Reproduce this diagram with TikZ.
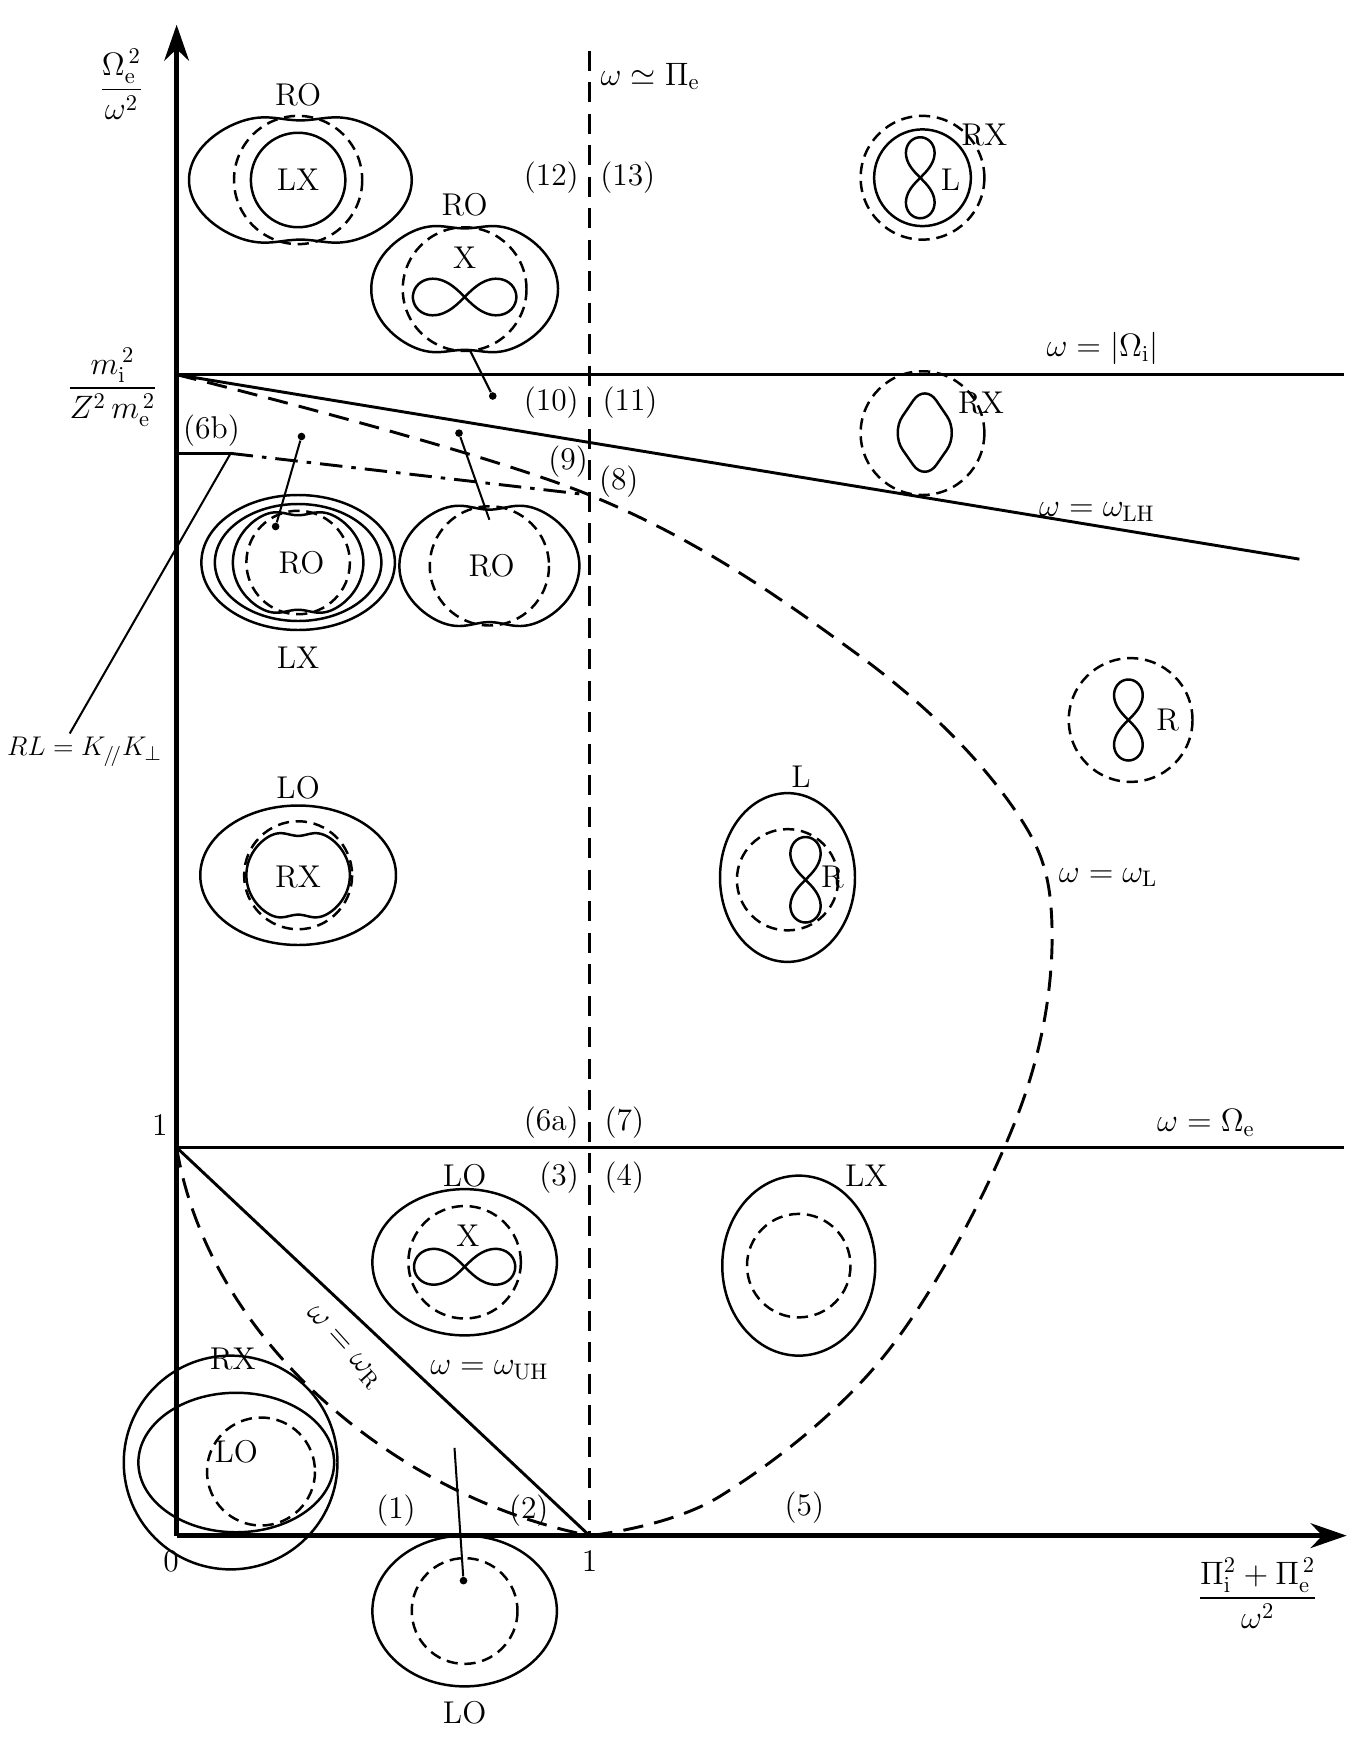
\documentclass[tikz,border=0pt]{standalone}
\usepackage{amsmath}
\usetikzlibrary{arrows.meta}
\tikzset{
  axis/.style={line width=2pt,-{Stealth[length=16pt,width=11pt]}},
  bound/.style={line width=1.3pt},
  cutoff/.style={line width=1.3pt,dash pattern=on 9pt off 5pt},
  wsurf/.style={line width=1.1pt},
  dsurf/.style={line width=1.1pt,dash pattern=on 5pt off 3pt},
  lead/.style={line width=0.9pt},
  dotpt/.style={circle,fill,inner sep=1.2pt},
  lbl/.style={inner sep=1pt}
}
% peanut shaped surface: half widths rx, ry and a dip w at top and bottom
\newcommand{\peanut}[5]{\draw[wsurf,shift={(#1,#2)}] plot[domain=0:360,samples=120,smooth cycle] ({#3*cos(\x)},{sin(\x)*(#4-#5*exp(-10*cos(\x)^2))});}
% horizontal and vertical figure eight
\newcommand{\eightH}[3]{\draw[wsurf,shift={(#1,#2)}] plot[domain=0:360,samples=100,smooth cycle] ({#3*cos(\x)/(1+sin(\x)^2)},{#3*sin(\x)*cos(\x)/(1+sin(\x)^2)});}
\newcommand{\eightV}[3]{\draw[wsurf,shift={(#1,#2)}] plot[domain=0:360,samples=100,smooth cycle] ({#3*sin(\x)*cos(\x)/(1+sin(\x)^2)},{#3*cos(\x)/(1+sin(\x)^2)});}
\begin{document}
\begin{tikzpicture}[x=0.5pt,y=-0.5pt,font=\fontsize{14}{16}\selectfont]
\useasboundingbox (0,0) rectangle (1210,1568);

%% AXES
\coordinate (O) at (157,1365);
\coordinate (ytop) at (157,22);
\coordinate (xend) at (1197,1365);
\draw[axis] (O) -- (ytop);
\draw[axis] (O) -- (xend);
\node[lbl] (ylab) at (108,75) {$\dfrac{\Omega_{\mathrm e}^{\,2}}{\omega^2}$};
\node[lbl] (xlab) at (1118,1416) {$\dfrac{\Pi_{\mathrm i}^2+\Pi_{\mathrm e}^{\,2}}{\omega^2}$};
\node[lbl] (mlab) at (100,344) {$\dfrac{m_{\mathrm i}^{\,2}}{Z^2\,m_{\mathrm e}^{\,2}}$};
\node[lbl] (zero) at (152,1388) {0};
\node[lbl] (oney) at (142,1000) {1};
\node[lbl] (onex) at (524,1388) {1};

%% BOUNDARIES
\coordinate (Mi) at (157,333);
\coordinate (E1) at (157,1020);
\coordinate (X1) at (524,1365);
\draw[cutoff] (524,45) -- (X1);
\draw[bound] (Mi) -- (1195,333);
\draw[bound] (E1) -- (1195,1020);
\draw[bound] (Mi) -- (1155,497);
\draw[bound] (E1) -- (X1);
\draw[cutoff] plot[smooth,tension=0.6] coordinates {(157,333) (524,440) (760,580) (895,710) (935,820) (905,990) (790,1200) (640,1330) (524,1365)};
\draw[cutoff] (E1) .. controls (185,1190) and (350,1330) .. (X1);
\coordinate (Sb) at (205,403);
\draw[bound] (157,403) -- (Sb);
\draw[line width=1.3pt,dash pattern=on 10pt off 4pt on 2pt off 4pt] (Sb) -- (524,440);
\coordinate (RLend) at (62,652);
\draw[lead] (Sb) -- (RLend);
\node[lbl,anchor=west,font=\fontsize{13}{15}\selectfont] (RL) at (4,668) {$RL=K_{/\!/}K_\perp$};

%% LINE LABELS
\node[lbl] (pe) at (578,68) {$\omega\simeq\Pi_{\mathrm e}$};
\node[lbl] (wi) at (980,310) {$\omega=|\Omega_{\mathrm i}|$};
\node[lbl] (wlh) at (975,455) {$\omega=\omega_{\mathrm{LH}}$};
\node[lbl] (wl) at (985,780) {$\omega=\omega_{\mathrm L}$};
\node[lbl] (we) at (1072,998) {$\omega=\Omega_{\mathrm e}$};
\node[lbl] (wuh) at (435,1218) {$\omega=\omega_{\mathrm{UH}}$};
\node[lbl,rotate=-48] (wr) at (305,1198) {$\omega=\omega_{\mathrm R}$};

%% REGION NUMBERS
\node (r12) at (490,158) {(12)};
\node (r13) at (558,158) {(13)};
\node (r10) at (490,358) {(10)};
\node (r11) at (560,358) {(11)};
\node (r9) at (505,410) {(9)};
\node (r8) at (550,428) {(8)};
\node (r6b) at (188,383) {(6b)};
\node (r6a) at (490,998) {(6a)};
\node (r7) at (555,998) {(7)};
\node (r3) at (497,1047) {(3)};
\node (r4) at (555,1047) {(4)};
\node (r1) at (352,1343) {(1)};
\node (r2) at (470,1343) {(2)};
\node (r5) at (715,1340) {(5)};

%% SURFACES, REGION 13
\peanut{267}{160}{99}{62}{9}
\draw[dsurf] (265,160) circle (57);
\draw[wsurf] (265,160) circle (42);
\node (s1a) at (265,160) {LX};
\node (s1b) at (265,84) {RO};

%% REGION 11
\peanut{413}{257}{83}{62}{8}
\draw[dsurf] (413,257) circle (55);
\eightH{413}{264}{46}
\node (s2a) at (413,229) {X};
\node (s2b) at (413,182) {RO};
\node[dotpt] (d2) at (438,352) {};
\draw[lead] (418,312) -- (d2);

%% REGION 13 right
\draw[dsurf] (820,158) circle (55);
\draw[wsurf] (820,158) circle (43);
\eightV{818}{158}{36}
\node (s3a) at (845,160) {L};
\node (s3b) at (875,120) {RX};

\draw[dsurf] (820,385) circle (55);
\draw[wsurf,rounded corners=9pt] (822,341) -- (852,385) -- (822,428) -- (792,385) -- cycle;
\node (s4) at (872,358) {RX};

%% REGION 6b / 9
\draw[wsurf] (265,500) ellipse (86 and 60);
\draw[wsurf] (265,500) ellipse (74 and 52);
\peanut{265}{500}{58}{50}{8}
\draw[dsurf] (265,500) circle (46);
\node (s5a) at (268,500) {RO};
\node (s5b) at (265,585) {LX};
\node[dotpt] (d5a) at (268,388) {};
\node[dotpt] (d5b) at (245,468) {};
\draw[lead] (d5a) -- (d5b);

\peanut{435}{503}{80}{60}{10}
\draw[dsurf] (435,503) circle (53);
\node (s6) at (437,503) {RO};
\node[dotpt] (d6) at (408,385) {};
\draw[lead] (d6) -- (435,462);

%% REGION 8, 7, 6a
\draw[dsurf] (1005,640) circle (55);
\eightV{1003}{640}{36}
\node (s7) at (1038,640) {R};

\draw[wsurf] (265,778) ellipse (87 and 62);
\draw[dsurf] (265,778) circle (48);
\peanut{265}{778}{46}{42}{7}
\node (s8a) at (265,780) {RX};
\node (s8b) at (265,700) {LO};

\draw[wsurf] (700,780) ellipse (60 and 75);
\draw[dsurf] (700,782) circle (45);
\eightV{716}{782}{38}
\node (s9a) at (740,780) {R};
\node (s9b) at (712,690) {L};

%% REGION 3, 4
\draw[wsurf] (413,1122) ellipse (82 and 65);
\draw[dsurf] (413,1122) circle (50);
\eightH{413}{1126}{45}
\node (s10a) at (416,1098) {X};
\node (s10b) at (413,1045) {LO};

\draw[wsurf] (710,1125) ellipse (68 and 80);
\draw[dsurf] (710,1125) circle (46);
\node (s11) at (770,1045) {LX};

%% REGION 1, 2
\draw[wsurf] (205,1300) circle (95);
\draw[wsurf] (210,1300) ellipse (87 and 62);
\draw[dsurf] (232,1308) circle (48);
\node (s12a) at (210,1290) {LO};
\node (s12b) at (207,1208) {RX};

\draw[wsurf] (413,1432) ellipse (82 and 67);
\draw[dsurf] (413,1432) circle (47);
\node (s13) at (413,1522) {LO};
\node[dotpt] (d13) at (412,1405) {};
\draw[lead] (404,1287) -- (d13);
\end{tikzpicture}
\end{document}
